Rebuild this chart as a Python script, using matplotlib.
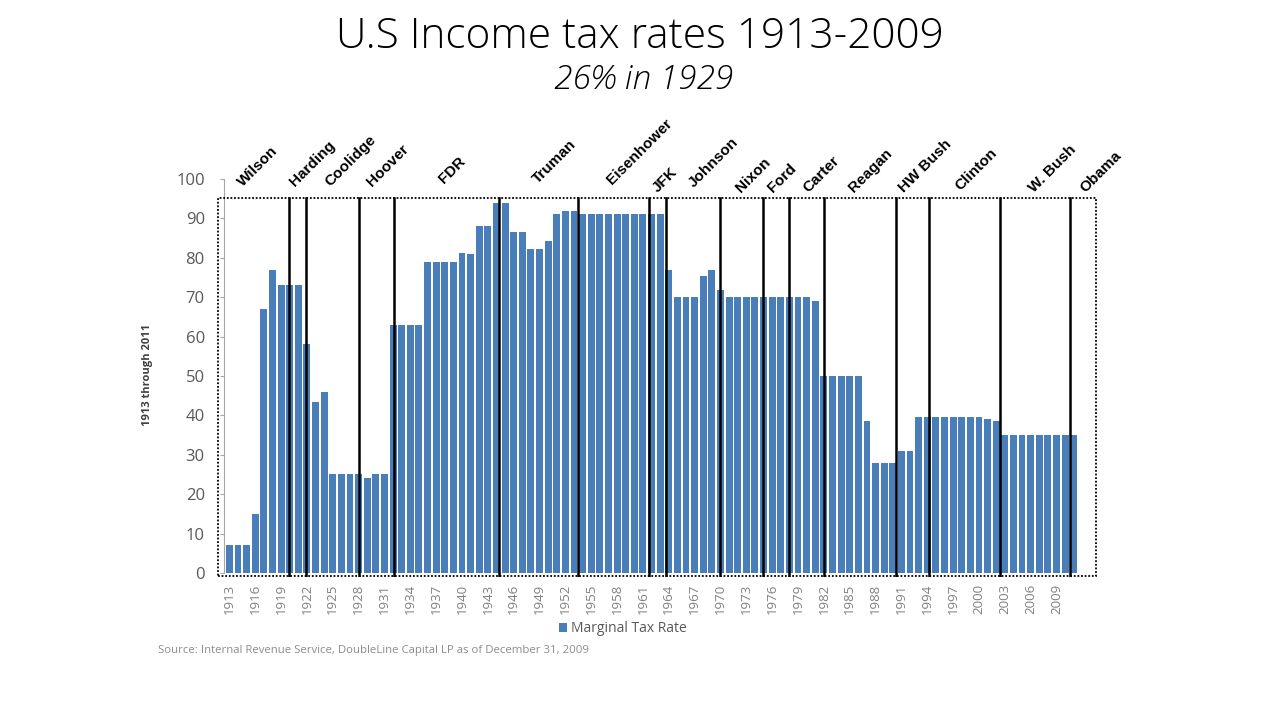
import matplotlib
matplotlib.use('Agg')
import numpy as np
import matplotlib.pyplot as plt
from matplotlib.patches import Rectangle

# ── Data ─────────────────────────────────────────────────────────────────────
years = list(range(1913, 2012))
top_rate = [7, 7, 7, 15, 67, 77, 73, 73, 73, 58,            # 1913-1922
            43.5, 46, 25, 25, 25, 25, 24, 25, 25, 63,       # 1923-1932
            63, 63, 63, 79, 79, 79, 79, 81.1, 81, 88,       # 1933-1942
            88, 94, 94, 86.45, 86.45, 82.13, 82.13, 84.36, 91, 92,   # 1943-1952
            92, 91, 91, 91, 91, 91, 91, 91, 91, 91,         # 1953-1962
            91, 77, 70, 70, 70, 75.25, 77, 71.75, 70, 70,   # 1963-1972
            70, 70, 70, 70, 70, 70, 70, 70, 69.13, 50,      # 1973-1982
            50, 50, 50, 50, 38.5, 28, 28, 28, 31, 31,       # 1983-1992
            39.6, 39.6, 39.6, 39.6, 39.6, 39.6, 39.6, 39.6, 39.1, 38.6,  # 1993-2002
            35, 35, 35, 35, 35, 35, 35, 35, 35]             # 2003-2011

# president change markers (as drawn) and name labels
term_lines = [1919.95, 1921.85, 1928.05, 1932.1, 1944.3, 1953.45, 1961.7,
              1963.7, 1969.95, 1974.95, 1977.95, 1982.0, 1990.4, 1994.2,
              2002.45, 2010.6]
presidents = ['Wilson', 'Harding', 'Coolidge', 'Hoover', 'FDR', 'Truman',
              'Eisenhower', 'JFK', 'Johnson', 'Nixon', 'Ford', 'Carter',
              'Reagan', 'HW Bush', 'Clinton', 'W. Bush', 'Obama']
name_x = [1914.8, 1920.9, 1925.0, 1929.8, 1938.1, 1949.0, 1957.7, 1963.0,
          1967.2, 1972.6, 1976.4, 1980.5, 1985.7, 1991.5, 1998.1, 2006.6,
          2012.6]
name_y = [97.5, 97.5, 97.5, 97.5, 98.2, 98.2, 98.0, 96.0, 97.3, 96.0,
          96.0, 96.0, 96.0, 95.8, 96.5, 95.8, 96.0]

BLUE = '#4a7ebb'
GREY = '#808080'

fig = plt.figure(figsize=(12.8, 7.2), dpi=100)
ax = fig.add_axes([0.1691, 0.1988, 0.6886, 0.5526])

bars = ax.bar(years, top_rate, width=0.8, color=BLUE, linewidth=0,
              label='Marginal Tax Rate', zorder=2)

# dotted frame
ax.add_patch(Rectangle((1911.7, -0.7), 2013.6 - 1911.7, 95.8, fill=False,
                       linestyle=(0, (1, 1)), linewidth=1.3, edgecolor='black',
                       zorder=3))
for x in term_lines:
    ax.plot([x, x], [-0.7, 95.1], color='black', linewidth=1.8, zorder=4)

for name, x, y in zip(presidents, name_x, name_y):
    ax.text(x, y, name, rotation=45, rotation_mode='anchor', ha='left',
            va='bottom', fontsize=11, fontweight='bold',
            family='Liberation Sans', color='black')

ax.set_xlim(1911.5, 2013.8)
ax.set_ylim(-1, 100)

for s in ['top', 'right', 'bottom']:
    ax.spines[s].set_visible(False)
ax.spines['left'].set_position(('data', 1912.4))
ax.spines['left'].set_bounds(0, 100)
ax.spines['left'].set_color('#a6a6a6')

ax.set_yticks(range(0, 101, 10))
ax.tick_params(axis='y', length=3, color='#a6a6a6', pad=11, labelsize=12,
               labelcolor='#595959')
ax.set_xticks(years[::3])
ax.set_xticklabels([str(y) for y in years[::3]], rotation=90)
ax.tick_params(axis='x', length=0, pad=5, labelsize=9.5, labelcolor=GREY)
for lbl in ax.get_xticklabels() + ax.get_yticklabels():
    lbl.set_family('Open Sans')

ax.set_ylabel('1913 through 2011', fontsize=8, fontweight='bold',
              color='#404040', family='Open Sans')
ax.yaxis.set_label_coords(-0.072, 0.507)

fig.legend(handles=[bars], loc='center', bbox_to_anchor=(623 / 1280, 1 - 629 / 720),
           frameon=False, prop={'family': 'Open Sans', 'size': 10},
           labelcolor='#595959', handlelength=0.6, handleheight=0.6,
           handletextpad=0.3)

fig.text(158 / 1280, 1 - 650 / 720,
         'Source: Internal Revenue Service, DoubleLine Capital LP as of December 31, 2009',
         fontsize=8.2, color='#8c8c8c', family='Open Sans', va='center')

fig.text(0.5, 1 - 37 / 720, 'U.S Income tax rates 1913-2009', ha='center',
         va='center', fontsize=30.5, family='Open Sans', fontweight='light',
         color='black')
fig.text(644 / 1280, 1 - 80 / 720, '26% in 1929', ha='center', va='center',
         fontsize=24, family='Open Sans', style='italic', fontweight='light',
         color='black')

fig.savefig('out.png', dpi=100)
